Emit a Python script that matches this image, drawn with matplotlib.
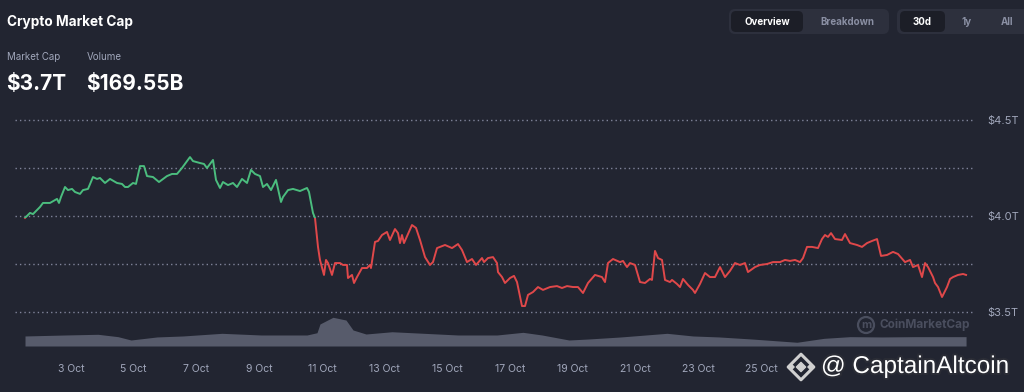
import numpy as np
import matplotlib.pyplot as plt
from matplotlib.patches import Rectangle, FancyBboxPatch, Circle
import matplotlib.patheffects as pe

plt.rcParams['font.family'] = ['Inter', 'DejaVu Sans']

# Market cap (trillions USD), x = day of October
days = [1.534, 1.693, 1.789, 2.012, 2.107, 2.331, 2.554, 2.617, 2.681, 2.809,
        2.904, 3.032, 3.128, 3.287, 3.383, 3.542, 3.701, 3.829, 3.924, 4.084,
        4.243, 4.466, 4.626, 4.721, 4.817, 4.976, 5.072, 5.200, 5.327, 5.423,
        5.614, 5.805, 6.060, 6.220, 6.379, 6.538, 6.793, 6.889, 7.112, 7.240,
        7.335, 7.527, 7.622, 7.750, 7.845, 8.005, 8.164, 8.292, 8.451, 8.611,
        8.738, 8.866, 9.025, 9.121, 9.248, 9.376, 9.535, 9.694, 9.758, 9.918,
        10.077, 10.300, 10.523, 10.587, 10.714, 10.778, 10.874, 10.937, 11.065, 11.129,
        11.193, 11.320, 11.416, 11.575, 11.671, 11.798, 11.830, 11.958, 12.022, 12.117,
        12.277, 12.436, 12.532, 12.563, 12.691, 12.787, 12.914, 13.073, 13.169, 13.328,
        13.424, 13.488, 13.552, 13.615, 13.870, 13.998, 14.126, 14.285, 14.444, 14.540,
        14.668, 14.923, 15.146, 15.337, 15.464, 15.624, 15.783, 15.911, 16.102, 16.166,
        16.293, 16.453, 16.580, 16.612, 16.740, 16.835, 16.995, 17.122, 17.218, 17.377,
        17.473, 17.569, 17.728, 17.887, 18.047, 18.270, 18.493, 18.652, 18.812, 19.003,
        19.162, 19.322, 19.481, 19.704, 19.927, 20.023, 20.119, 20.278, 20.501, 20.597,
        20.724, 20.820, 20.979, 21.139, 21.298, 21.457, 21.521, 21.617, 21.713, 21.840,
        21.936, 22.095, 22.159, 22.318, 22.414, 22.510, 22.669, 22.828, 22.892, 23.051,
        23.211, 23.370, 23.529, 23.689, 23.848, 24.007, 24.167, 24.326, 24.486, 24.581,
        24.804, 24.964, 25.187, 25.378, 25.602, 25.761, 25.920, 26.080, 26.239, 26.335,
        26.463, 26.622, 26.813, 26.941, 27.036, 27.132, 27.228, 27.355, 27.578, 27.674,
        27.833, 28.057, 28.216, 28.376, 28.535, 28.695, 28.822, 29.013, 29.204, 29.364,
        29.587, 29.747, 29.842, 30.002, 30.129, 30.225, 30.321, 30.480, 30.544, 30.640,
        30.767, 30.926, 31.022, 31.118, 31.277, 31.437, 31.533]
mcap = [3.990, 4.016, 4.010, 4.047, 4.068, 4.068, 4.089, 4.068, 4.099, 4.151,
        4.135, 4.141, 4.125, 4.115, 4.135, 4.141, 4.203, 4.193, 4.198, 4.172,
        4.193, 4.172, 4.167, 4.151, 4.151, 4.172, 4.167, 4.260, 4.260, 4.208,
        4.203, 4.177, 4.208, 4.219, 4.219, 4.250, 4.307, 4.286, 4.276, 4.271,
        4.250, 4.292, 4.188, 4.146, 4.177, 4.161, 4.172, 4.151, 4.193, 4.172,
        4.240, 4.219, 4.208, 4.151, 4.167, 4.135, 4.188, 4.073, 4.099, 4.135,
        4.141, 4.130, 4.146, 4.125, 4.016, 3.990, 3.839, 3.771, 3.693, 3.771,
        3.755, 3.693, 3.755, 3.755, 3.745, 3.745, 3.677, 3.693, 3.651, 3.682,
        3.729, 3.729, 3.745, 3.729, 3.865, 3.870, 3.901, 3.917, 3.875, 3.932,
        3.911, 3.859, 3.901, 3.859, 3.953, 3.938, 3.875, 3.786, 3.745, 3.760,
        3.833, 3.849, 3.833, 3.854, 3.823, 3.760, 3.776, 3.745, 3.781, 3.760,
        3.781, 3.786, 3.755, 3.708, 3.682, 3.651, 3.677, 3.688, 3.656, 3.531,
        3.531, 3.589, 3.604, 3.630, 3.615, 3.630, 3.635, 3.625, 3.635, 3.630,
        3.630, 3.599, 3.651, 3.693, 3.682, 3.656, 3.755, 3.776, 3.760, 3.766,
        3.734, 3.755, 3.745, 3.656, 3.651, 3.672, 3.667, 3.818, 3.781, 3.771,
        3.667, 3.656, 3.667, 3.646, 3.630, 3.672, 3.641, 3.615, 3.599, 3.646,
        3.703, 3.682, 3.682, 3.734, 3.682, 3.714, 3.755, 3.745, 3.755, 3.708,
        3.734, 3.745, 3.750, 3.760, 3.760, 3.771, 3.766, 3.771, 3.760, 3.781,
        3.839, 3.839, 3.833, 3.880, 3.901, 3.891, 3.911, 3.880, 3.875, 3.906,
        3.859, 3.849, 3.839, 3.859, 3.870, 3.880, 3.792, 3.797, 3.813, 3.802,
        3.760, 3.771, 3.734, 3.745, 3.682, 3.755, 3.734, 3.682, 3.651, 3.630,
        3.578, 3.630, 3.672, 3.682, 3.693, 3.698, 3.693]

# Volume (billions USD)
vol_days = [1.534, 2.809, 3.861, 4.498, 4.913, 5.742, 6.570, 7.814, 9.057, 10.523,
            10.842, 10.937, 11.352, 11.766, 11.990, 12.404, 13.233, 14.062, 15.337, 16.580,
            17.409, 18.015, 18.875, 19.481, 20.533, 22.000, 22.828, 23.657, 24.709, 26.144,
            27.004, 27.833, 28.853, 29.905, 31.533]
volume = [102, 112, 119, 95, 61, 92, 102, 129, 112, 112,
          135, 224, 292, 264, 163, 122, 145, 132, 112, 112,
          139, 112, 61, 71, 92, 129, 102, 92, 71, 38,
          78, 95, 92, 95, 95]

tick_days = [3, 5, 7, 9, 11, 13, 15, 17, 19, 21, 23, 25]
tick_labels = [f'{d} Oct' for d in tick_days]
ytick_vals = [3.5, 4.0, 4.5]
ytick_labels = ['$3.5T', '$4.0T', '$4.5T']

bg = '#222531'
grey = '#a1a7bb'
green = '#4bbd7e'
red = '#e0484a'

W, H = 1024, 392
fig = plt.figure(figsize=(W / 100, H / 100), dpi=100, facecolor=bg)

# main chart area (pixel box 15..975 x 110..346)
ax = fig.add_axes([15 / W, 1 - 346 / H, 960 / W, 236 / H])
ax.set_facecolor('none')
ax.set_xlim(1.215, 31.818)
ax.set_ylim(3.3229, 4.5521)
for s in ax.spines.values():
    s.set_visible(False)
for g in [3.5, 3.75, 4.0, 4.25, 4.5]:
    ax.axhline(g, color='#80849a', lw=1.0, ls=(0, (1, 2.2)), zorder=1)

# volume on a twin axis
axv = ax.twinx()
axv.set_ylim(0, 2400)
axv.fill_between(vol_days, volume, 0, color='#575b6b', lw=0, zorder=1)
axv.set_yticks([])
for s in axv.spines.values():
    s.set_visible(False)
ax.set_zorder(axv.get_zorder() + 1)

base = mcap[0]
lg, = ax.plot(days, mcap, color=green, lw=1.4, zorder=3, solid_joinstyle='round')
lr, = ax.plot(days, mcap, color=red, lw=1.4, zorder=3, solid_joinstyle='round')
lg.set_clip_path(Rectangle((0, base), 40, 5, transform=ax.transData))
lr.set_clip_path(Rectangle((0, base - 5), 40, 5, transform=ax.transData))

ax.set_xticks(tick_days)
ax.set_xticklabels(tick_labels)
ax.tick_params(axis='x', length=0, pad=13, labelsize=7.5, labelcolor=grey)
ax.yaxis.tick_right()
ax.set_yticks(ytick_vals)
ax.set_yticklabels(ytick_labels)
ax.tick_params(axis='y', length=0, pad=9, labelsize=8, labelcolor=grey)

# overlay in pixel coordinates for header, buttons, watermarks
ov = fig.add_axes([0, 0, 1, 1])
ov.set_xlim(0, W)
ov.set_ylim(H, 0)
ov.axis('off')
ov.patch.set_visible(False)

ov.text(7, 22, 'Crypto Market Cap', color='white', fontsize=9.8, fontweight='bold', va='center')
ov.text(7, 57, 'Market Cap', color=grey, fontsize=7, va='center')
ov.text(87, 57, 'Volume', color=grey, fontsize=7, va='center')
ov.text(6, 84, '$3.7T', color='white', fontsize=15, fontweight='bold', va='center')
ov.text(86, 84, '$169.55B', color='white', fontsize=15, fontweight='bold', va='center')

ov.add_patch(FancyBboxPatch((729, 9), 160, 25, boxstyle='round,pad=0,rounding_size=6',
                            fc='#2d303d', ec='none'))
ov.add_patch(FancyBboxPatch((731, 11), 72, 21, boxstyle='round,pad=0,rounding_size=5',
                            fc='#1c1e27', ec='none'))
ov.add_patch(FancyBboxPatch((897, 9), 140, 25, boxstyle='round,pad=0,rounding_size=6',
                            fc='#2d303d', ec='none'))
ov.add_patch(FancyBboxPatch((900, 11), 45, 21, boxstyle='round,pad=0,rounding_size=5',
                            fc='#1c1e27', ec='none'))
ov.text(767, 22, 'Overview', color='white', fontsize=7, fontweight='bold', ha='center', va='center')
ov.text(847, 22, 'Breakdown', color='#8a8fa3', fontsize=7, fontweight='bold', ha='center', va='center')
ov.text(922, 22, '30d', color='white', fontsize=7, fontweight='bold', ha='center', va='center')
ov.text(967, 22, '1y', color='#8a8fa3', fontsize=7, fontweight='bold', ha='center', va='center')
ov.text(1007, 22, 'All', color='#8a8fa3', fontsize=7, fontweight='bold', ha='center', va='center')

# CoinMarketCap watermark
ov.add_patch(Circle((866, 325), 8, fc='none', ec='#4a4e5e', lw=1.6))
ov.text(866, 325.5, 'm', color='#4a4e5e', fontsize=8, fontweight='bold', ha='center', va='center')
ov.text(880, 325, 'CoinMarketCap', color='#4a4e5e', fontsize=8.5, fontweight='bold', va='center')

# repost watermark
ov.scatter([801], [367], marker='D', s=170, fc='none', ec='#d0d0d0', lw=2.2)
ov.scatter([801, 791, 811], [367, 367, 367], marker='D', s=[22, 10, 10], c='#d0d0d0')
ov.text(821, 367, '@ CaptainAltcoin', color='white', fontsize=17.5, va='center',
        family=['Liberation Sans', 'DejaVu Sans'],
        path_effects=[pe.withStroke(linewidth=3, foreground='#2a2c35')])

fig.savefig('out.png', dpi=100, facecolor=bg)
